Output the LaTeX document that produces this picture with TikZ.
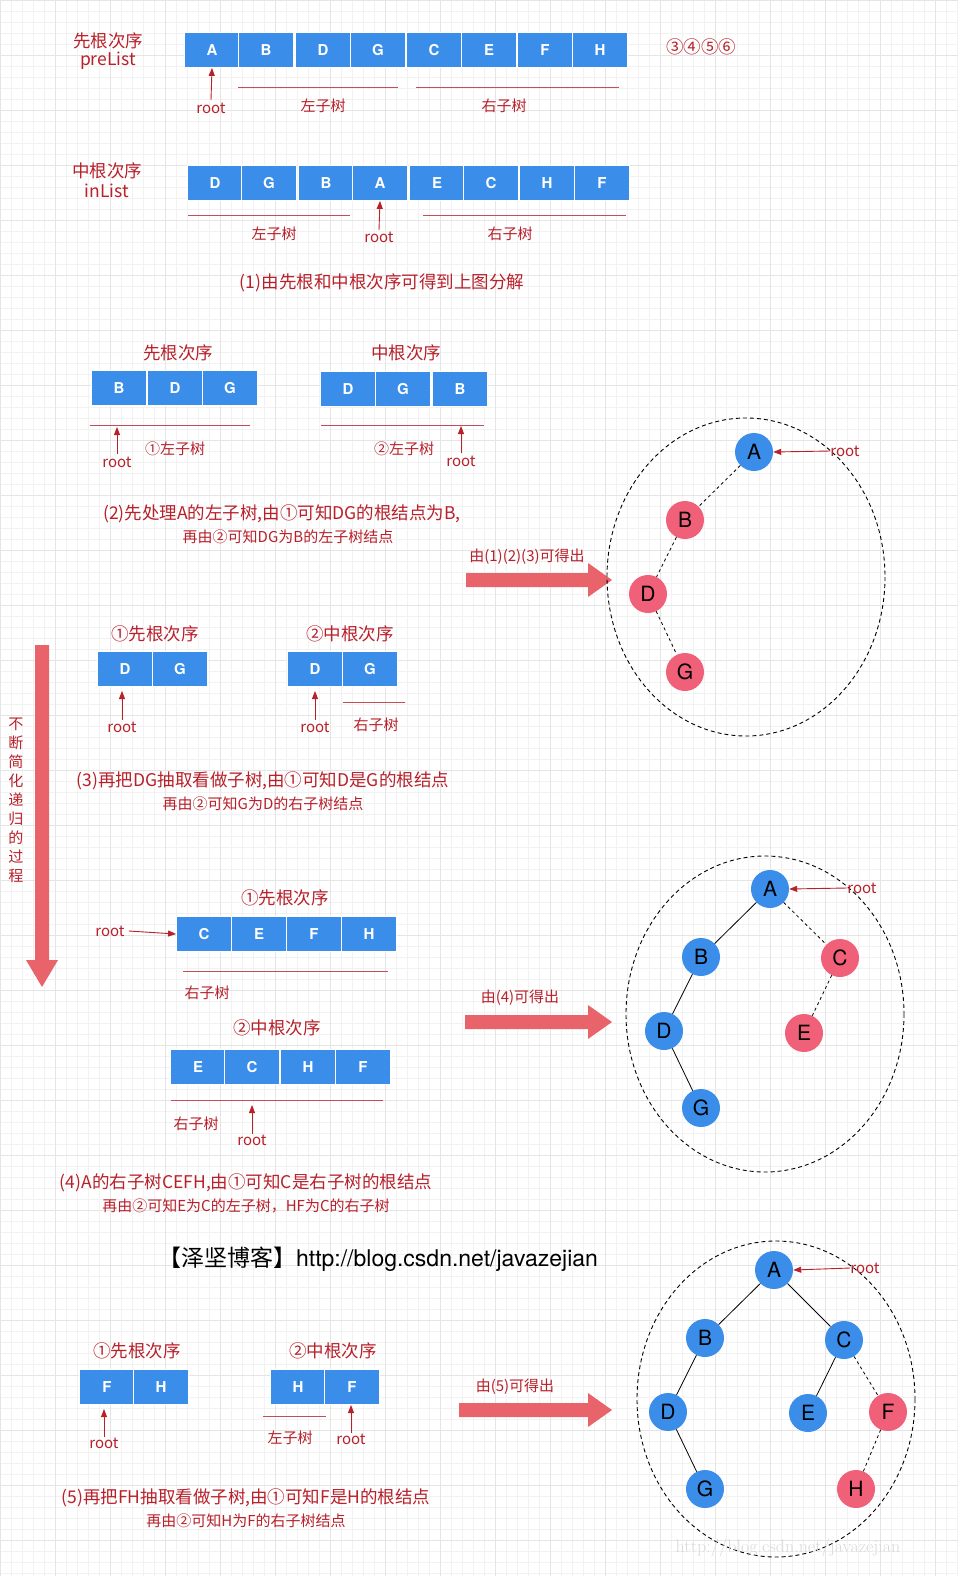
\documentclass[tikz,border=0pt]{standalone}
\usepackage{fontspec}
\setmainfont{Noto Sans CJK SC}
\newfontfamily\hv{TeX Gyre Heros}
\usetikzlibrary{arrows.meta}
\definecolor{cblue}{HTML}{3A8EEA}
\definecolor{cred}{HTML}{B8202A}
\definecolor{cpink}{HTML}{F06078}
\definecolor{carr}{HTML}{E8636A}
\tikzset{
 cell/.style={fill=cblue,draw=white,line width=0.8pt,minimum width=55pt,minimum height=35pt,inner sep=0,text=white,font=\hv\bfseries\fontsize{15}{15}\selectfont},
 lbl/.style={text=cred,font=\fontsize{17.5}{18}\selectfont,inner sep=0,align=center},
 sl/.style={text=cred,font=\fontsize{15}{16}\selectfont,inner sep=0},
 uline/.style={draw=cred!80,line width=0.8pt},
 rarr/.style={draw=cred,line width=0.9pt,-{Triangle[length=8pt,width=6pt]}},
 tn/.style={circle,minimum size=38pt,inner sep=0,text=black,font=\hv\fontsize{21}{21}\selectfont},
 bn/.style={tn,fill=cblue},
 pn/.style={tn,fill=cpink},
 se/.style={line width=0.8pt},
 de/.style={line width=0.8pt,dashed},
 oval/.style={draw,line width=0.9pt,dash pattern=on 4pt off 3pt},
}
\newcommand{\bigarrowH}[3]{\fill[carr] (#1,#3-7) -- (#2-24,#3-7) -- (#2-24,#3-17) -- (#2,#3) -- (#2-24,#3+17) -- (#2-24,#3+7) -- (#1,#3+7) -- cycle;}
\begin{document}
\begin{tikzpicture}[x=1pt,y=-1pt]
\useasboundingbox (0,0) rectangle (958,1576);
\fill[white] (0,0) rectangle (958,1576);
\draw[black!5,line width=0.4pt] (0,0) grid[step=11pt] (958,1576);
\draw[black!10,line width=0.5pt] (0,0) grid[step=55pt] (958,1576);
% section 1
\node[lbl] (t1) at (108,41) {先根次序};
\node[lbl] (t1b) at (108,61) {preList};
\foreach \l/\x [count=\i] in {A/212,B/266,D/323,G/378,C/434,E/489,F/545,H/600} \node[cell] (p\i) at (\x,50) {\l};
\node[lbl] (circ) at (701,47) {③④⑤⑥};
\coordinate (r1a) at (211,100); \node[sl] (r1) at (211,108) {root};
\draw[rarr] (r1a) -- (p1.south);
\draw[uline] (238,87) -- (398,87);
\draw[uline] (416,87) -- (619,87);
\node[sl] (l1) at (323,106) {左子树};
\node[sl] (l2) at (504,106) {右子树};
\node[lbl] (t2) at (107,171) {中根次序};
\node[lbl] (t2b) at (107,191) {inList};
\foreach \l/\x [count=\i] in {D/215,G/269,B/326,A/380,E/437,C/491,H/547,F/602} \node[cell] (i\i) at (\x,183) {\l};
\draw[uline] (188,215) -- (350,215);
\draw[uline] (423,215) -- (626,215);
\node[sl] (l3) at (274,234) {左子树};
\node[sl] (l4) at (510,234) {右子树};
\coordinate (r2a) at (379,230); \node[sl] (r2) at (379,237) {root};
\draw[rarr] (r2a) -- (i4.south);
\node[lbl] (c1) at (382,283) {(1)由先根和中根次序可得到上图分解};
% section 2
\node[lbl] (t3) at (178,353) {先根次序};
\foreach \l/\x [count=\i] in {B/119,D/175,G/230} \node[cell] (a\i) at (\x,388) {\l};
\node[lbl] (t4) at (406,353) {中根次序};
\foreach \l/\x [count=\i] in {D/348,G/403,B/460} \node[cell] (b\i) at (\x,389) {\l};
\draw[uline] (90,425) -- (250,425);
\draw[uline] (321,425) -- (484,425);
\coordinate (r3a) at (117,454); \node[sl] (r3) at (117,462) {root};
\draw[rarr] (r3a) -- (117,427);
\coordinate (r4a) at (461,453); \node[sl] (r4) at (461,461) {root};
\draw[rarr] (r4a) -- (461,426);
\node[sl] (l5) at (175,449) {①左子树};
\node[sl] (l6) at (404,449) {②左子树};
\node[lbl] (c2) at (282,514) {(2)先处理A的左子树,由①可知DG的根结点为B,};
\node[sl] (c2b) at (288,537) {再由②可知DG为B的左子树结点};
\bigarrowH{466}{612}{580}
\node[sl] (g1) at (527,557) {由(1)(2)(3)可得出};
\draw[oval] (746,577) ellipse[x radius=139,y radius=159];
\node[bn] (A1) at (754,452) {A};
\node[pn] (B1) at (685,520) {B};
\node[pn] (D1) at (648,594) {D};
\node[pn] (G1) at (685,672) {G};
\draw[de] (A1) -- (B1); \draw[de] (B1) -- (D1); \draw[de] (D1) -- (G1);
\node[sl] (rt1) at (845,451) {root};
\draw[rarr] (rt1.west) -- (A1.east);
% section 3
\node[lbl] (t5) at (155,634) {①先根次序};
\node[cell] (d1) at (125,669) {D}; \node[cell] (d2) at (180,669) {G};
\node[lbl] (t6) at (350,634) {②中根次序};
\node[cell] (e1) at (315,669) {D}; \node[cell] (e2) at (370,669) {G};
\coordinate (r5a) at (122,720); \node[sl] (r5) at (122,727) {root};
\draw[rarr] (r5a) -- (122,691);
\coordinate (r6a) at (315,720); \node[sl] (r6) at (315,727) {root};
\draw[rarr] (r6a) -- (315,691);
\draw[uline] (343,702) -- (405,702);
\node[sl] (l7) at (376,725) {右子树};
\node[lbl] (c3) at (263,781) {(3)再把DG抽取看做子树,由①可知D是G的根结点};
\node[sl] (c3b) at (263,804) {再由②可知G为D的右子树结点};
\fill[carr] (35,645) -- (49,645) -- (49,960) -- (58,960) -- (42,987) -- (26,960) -- (35,960) -- cycle;
\node[sl,align=center] (vt) at (16,800) {不\\[3pt]断\\[3pt]简\\[3pt]化\\[3pt]递\\[3pt]归\\[3pt]的\\[3pt]过\\[3pt]程};
% section 4
\node[lbl] (t7) at (285,898) {①先根次序};
\foreach \l/\x [count=\i] in {C/204,E/259,F/314,H/369} \node[cell] (f\i) at (\x,934) {\l};
\node[sl] (r7) at (110,931) {root};
\draw[rarr] (r7.east) ++(4,0) -- (f1.west);
\draw[uline] (183,971) -- (388,971);
\node[sl] (l8) at (207,993) {右子树};
\node[lbl] (t8) at (277,1028) {②中根次序};
\foreach \l/\x [count=\i] in {E/198,C/252,H/308,F/363} \node[cell] (h\i) at (\x,1067) {\l};
\draw[uline] (171,1100) -- (383,1100);
\node[sl] (l9) at (196,1124) {右子树};
\coordinate (r8a) at (252,1134); \node[sl] (r8) at (252,1140) {root};
\draw[rarr] (r8a) -- (252,1105);
\node[lbl] (c4) at (246,1183) {(4)A的右子树CEFH,由①可知C是右子树的根结点};
\node[sl] (c4b) at (246,1206) {再由②可知E为C的左子树，HF为C的右子树};
\bigarrowH{465}{612}{1022}
\node[sl] (g2) at (520,998) {由(4)可得出};
\draw[oval] (765,1014) ellipse[x radius=139,y radius=158];
\node[bn] (A2) at (770,889) {A};
\node[bn] (B2) at (701,957) {B};
\node[pn] (C2) at (840,958) {C};
\node[bn] (D2) at (664,1031) {D};
\node[pn] (E2) at (804,1033) {E};
\node[bn] (G2) at (701,1108) {G};
\draw[se] (A2) -- (B2); \draw[se] (B2) -- (D2); \draw[se] (D2) -- (G2);
\draw[de] (A2) -- (C2); \draw[de] (C2) -- (E2);
\node[sl] (rt2) at (862,888) {root};
\draw[rarr] (rt2.west) -- (A2.east);
\node[font=\fontsize{23}{23}\selectfont,inner sep=0] (ttl) at (378,1259) {【泽坚博客】{\hv http://blog.csdn.net/javazejian}};
% section 5
\node[lbl] (t9) at (137,1351) {①先根次序};
\node[cell] (k1) at (107,1387) {F}; \node[cell] (k2) at (161,1387) {H};
\node[lbl] (t10) at (333,1351) {②中根次序};
\node[cell] (m1) at (298,1387) {H}; \node[cell] (m2) at (352,1387) {F};
\coordinate (r9a) at (104,1437); \node[sl] (r9) at (104,1443) {root};
\draw[rarr] (r9a) -- (104,1409);
\draw[uline] (263,1416) -- (326,1416);
\node[sl] (l10) at (290,1438) {左子树};
\coordinate (r10a) at (351,1433); \node[sl] (r10) at (351,1439) {root};
\draw[rarr] (r10a) -- (351,1405);
\node[lbl] (c5) at (246,1498) {(5)再把FH抽取看做子树,由①可知F是H的根结点};
\node[sl] (c5b) at (246,1521) {再由②可知H为F的右子树结点};
\bigarrowH{459}{612}{1410}
\node[sl] (g3) at (515,1387) {由(5)可得出};
\draw[oval] (776,1399) ellipse[x radius=139,y radius=158];
\node[bn] (A3) at (774,1270) {A};
\node[bn] (B3) at (705,1338) {B};
\node[bn] (C3) at (844,1340) {C};
\node[bn] (D3) at (668,1412) {D};
\node[bn] (E3) at (808,1413) {E};
\node[pn] (F3) at (888,1412) {F};
\node[bn] (G3) at (705,1489) {G};
\node[pn] (H3) at (856,1489) {H};
\draw[se] (A3) -- (B3); \draw[se] (A3) -- (C3); \draw[se] (B3) -- (D3); \draw[se] (D3) -- (G3); \draw[se] (C3) -- (E3);
\draw[de] (C3) -- (F3); \draw[de] (F3) -- (H3);
\node[sl] (rt3) at (865,1268) {root};
\draw[rarr] (rt3.west) -- (A3.east);
\node[text=black!15,font=\fontfamily{lmr}\fontsize{18}{18}\selectfont,inner sep=0] (wm) at (788,1548) {http://blog.csdn.net/javazejian};
\end{tikzpicture}
\end{document}
